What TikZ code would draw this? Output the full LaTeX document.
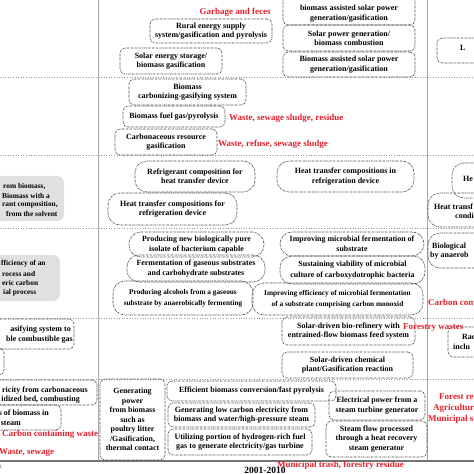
\documentclass[tikz,border=0pt]{standalone}
\usepackage{fontspec}
\setmainfont{Liberation Serif}
\newcommand\fs{\fontsize{8bp}{9.3bp}\selectfont\bfseries}
\newcommand\fsl{\fontsize{7.4bp}{9bp}\selectfont\bfseries}
\newcommand\fsg{\fontsize{7.9bp}{9.5bp}\selectfont\bfseries}
\newcommand\fsr{\fontsize{7.9bp}{10.3bp}\selectfont\bfseries}
\newcommand\fss{\fontsize{7.3bp}{10.5bp}\selectfont\bfseries}
\newcommand\fr{\fontsize{9bp}{11bp}\selectfont\bfseries}
\definecolor{redtxt}{RGB}{228,32,44}
\tikzset{
  box/.style={draw=black!70, dash pattern=on 2bp off 0.8bp on 0.6bp off 0.8bp,
    line width=0.6bp, rounded corners=5bp, inner sep=0pt, align=center, font=\fs},
  pill/.style={rounded corners=12bp},
  gbox/.style={fill=black!12, draw=none, rounded corners=7bp},
  lbl/.style={font=\fs, inner sep=0pt},
  lbls/.style={font=\fsl, inner sep=0pt},
  redlbl/.style={font=\fr, text=redtxt, inner sep=0pt},
  sepline/.style={draw=black!40, dotted, line width=0.6bp},
  vline/.style={draw=black!35, line width=0.5bp}
}
\newcommand\bx[6][]{%
  \pgfmathsetmacro\bxw{#4-#2}%
  \pgfmathsetmacro\bxh{#5-#3}%
  \pgfmathsetmacro\bxx{(#2+#4)/2}%
  \pgfmathsetmacro\bxy{(#3+#5)/2}%
  \node[box,minimum width=\bxw bp,minimum height=\bxh bp,#1] at (\bxx,\bxy) {#6};}
\begin{document}
\begin{tikzpicture}[x=1bp,y=-1bp]
\useasboundingbox (0,0) rectangle (474,474);
\clip (0,0) rectangle (474,474);
\fill[white] (0,0) rectangle (474,474);
% grid
\coordinate (vt1) at (98,0); \coordinate (vb1) at (98,461);
\coordinate (vt2) at (427,0); \coordinate (vb2) at (427,461);
\draw[vline] (vt1) -- (vb1);
\draw[vline] (vt2) -- (vb2);
\foreach \yy/\nm in {77/a,155/b,228/c,318/d,379/e}{
  \coordinate (hl\nm) at (0,\yy); \coordinate (hr\nm) at (474,\yy);
  \draw[sepline] (hl\nm) -- (hr\nm);}
\coordinate (bl) at (0,461); \coordinate (br) at (474,461);
\draw[black!55, line width=1.3bp] (bl) -- (br);

% ---------- row 1
\node[redlbl] (t1) at (235,12) {Garbage and feces};
\bx[name=r1a]{150}{19}{272}{43}{Rural energy supply\\system/gasification and pyrolysis}
\bx[name=r1b]{120}{48}{222}{74}{Solar energy storage/\\biomass gasification}
\bx[name=r1c]{283}{-4}{415}{25}{}
\node[lbl,align=center] (r1ct) at (349,13.5) {biomass assisted solar power\\generation/gasification};
\bx[name=r1d]{283}{25}{415}{51}{Solar power generation/\\biomass combustion}
\bx[name=r1e]{283}{52}{415}{77}{Biomass assisted solar power\\generation/gasification}
\bx[name=r1f]{437}{38}{510}{63}{}
\node[lbl,anchor=west] (r1ft) at (460,48) {L};

% ---------- row 2
\bx[name=r2a]{129}{79}{246}{105}{Biomass\\carbonizing-gasifying system}
\bx[name=r2b]{123}{106}{225}{127}{Biomass fuel gas/pyrolysis}
\bx[name=r2c]{115}{129}{217}{155}{Carbonaceous resource\\gasification}
\node[redlbl,anchor=west] (t2) at (229,118) {Waste, sewage sludge, residue};
\node[redlbl,anchor=west] (t3) at (218,144) {Waste, refuse, sewage sludge};

% ---------- row 3
\coordinate (g1a) at (-12,176); \coordinate (g1b) at (64,221);
\fill[gbox] (g1a) rectangle (g1b);
\node[lbls,anchor=west] (g1t1) at (3,187) {rom biomass,};
\node[lbls,anchor=west] (g1t2) at (2,195.5) {Biomass with a};
\node[lbls,anchor=west] (g1t3) at (2,204.5) {rant composition,};
\node[lbls,anchor=west] (g1t4) at (6,214) {from the solvent};
\bx[pill,name=r3a]{135}{161}{255}{192}{Refrigerant composition for\\heat transfer device}
\bx[pill,name=r3b]{277}{161}{414}{192}{Heat transfer compositions in\\refrigeration device}
\bx[pill,name=r3c]{108}{193}{237}{225}{Heat transfer compositions for\\refrigeration device}
\bx[pill,name=r3d]{452}{163}{510}{198}{}
\node[lbl,anchor=west] (r3dt) at (463,179) {He};
\bx[pill,name=r3e]{428}{193}{510}{227}{}
\node[lbl,anchor=west] (r3et1) at (434,207) {Heat transf};
\node[lbl,anchor=west] (r3et2) at (455,216) {condi};

% ---------- row 4
\coordinate (g2a) at (-12,255); \coordinate (g2b) at (60,301);
\fill[gbox] (g2a) rectangle (g2b);
\node[lbls,anchor=west] (g2t1) at (1,264) {fficiency of an};
\node[lbls,anchor=west] (g2t2) at (2,273.5) {rocess and};
\node[lbls,anchor=west] (g2t3) at (2,283) {eric carbon};
\node[lbls,anchor=west] (g2t4) at (3,292.5) {ial process};
\bx[pill,name=r4a,font=\fsr]{129}{232}{264}{257}{Producing new biologically pure\\isolate of bacterium capable}
\bx[pill,name=r4b,font=\fsr]{127}{255}{265}{282}{Fermentation of gaseous substrates\\and carbohydrate substrates}
\bx[pill,name=r4c,font=\fss]{113}{281}{253}{315}{Producing alcohols from a gaseous\\substrate by anaerobically fermenting}
\bx[pill,name=r4d,font=\fsr]{280}{232}{424}{256}{Improving microbial fermentation of\\substrate}
\bx[pill,name=r4e,font=\fsr]{280}{256}{425}{284}{Sustaining viability of microbial\\culture of carboxydotrophic bacteria}
\bx[pill,name=r4f,font=\fss]{252}{283}{423}{315}{Improving efficiency of microbial fermentation\\of a substrate comprising carbon monoxid}
\bx[pill,name=r4g]{428}{233}{510}{268}{}
\node[lbl,anchor=west] (r4gt1) at (432,247) {Biological};
\node[lbl,anchor=west] (r4gt2) at (430,256) {by anaerob};
\node[redlbl,anchor=west] (t4) at (428,302) {Carbon conv};

% ---------- row 5
\bx[name=r5a]{-20}{319}{74}{349}{}
\node[lbl,anchor=east] (r5at1) at (71,330) {asifying system to};
\node[lbl,anchor=east] (r5at2) at (73,340) {ble combustible gas};
\bx[name=r5b]{-20}{348}{4}{375}{}
\bx[name=r5c]{282}{317}{415}{345}{Solar-driven bio-refinery with\\entrained-flow biomass feed system}
\bx[name=r5d]{282}{352}{413}{378}{Solar-driven chemical\\plant/Gasification reaction}
\node[redlbl,anchor=west] (t5) at (403,328) {Forestry wastes};
\bx[name=r5e]{448}{327}{510}{357}{}
\node[lbl,anchor=west] (r5et1) at (462,337) {Rac};
\node[lbl,anchor=west] (r5et2) at (453,347) {inclu};

% ---------- row 6
\bx[name=r6a]{-20}{380}{97}{405}{}
\node[lbl,anchor=east] (r6at1) at (88,391) {ricity from carbonaceous};
\node[lbl,anchor=east] (r6at2) at (80,400) {idized bed, combusting};
\bx[name=r6b]{-20}{405}{61}{430}{}
\node[lbl,anchor=east] (r6bt1) at (49,413) {s of biomass in};
\node[lbl,anchor=east] (r6bt2) at (21,423) {steam};
\node[redlbl,anchor=west] (t6) at (2,434) {Carbon containing waste};
\node[redlbl,anchor=west] (t7) at (-1,453) {Waste, sewage};
\bx[name=r6c,font=\fsg]{100}{379}{165}{460}{Generating\\power\\from biomass\\such as\\poultry litter\\/Gasification,\\thermal contact}
\bx[name=r6d]{167}{381}{336}{401}{Efficient biomass conversion/fast pyrolysis}
\bx[name=r6e]{168}{403}{315}{427}{Generating low carbon electricity from\\biomass and water/high-pressure steam}
\bx[name=r6f]{168}{429}{312}{455}{Utilizing portion of hydrogen-rich fuel\\gas to generate electricity/gas turbine}
\bx[name=r6g]{329}{391}{425}{420}{Electrical power from a\\steam turbine generator}
\bx[name=r6h]{326}{421}{427}{457}{Steam flow processed\\through a heat recovery\\steam generator}
\node[redlbl,anchor=west] (t8) at (277,465) {Municipal trash, forestry residue};
\node[redlbl,anchor=west] (t9) at (439,397) {Forest re};
\node[redlbl,anchor=west] (t10) at (433,408) {Agricultur};
\node[redlbl,anchor=west] (t11) at (428,419) {Municipal s};
\node[font=\fontsize{9.5bp}{11bp}\selectfont\bfseries, inner sep=0pt] (yr) at (265,470) {2001-2010};
\node[font=\fontsize{5bp}{6bp}\selectfont, text=black!70, inner sep=0pt, anchor=west] (tiny) at (0,467) {I};
\end{tikzpicture}
\end{document}
